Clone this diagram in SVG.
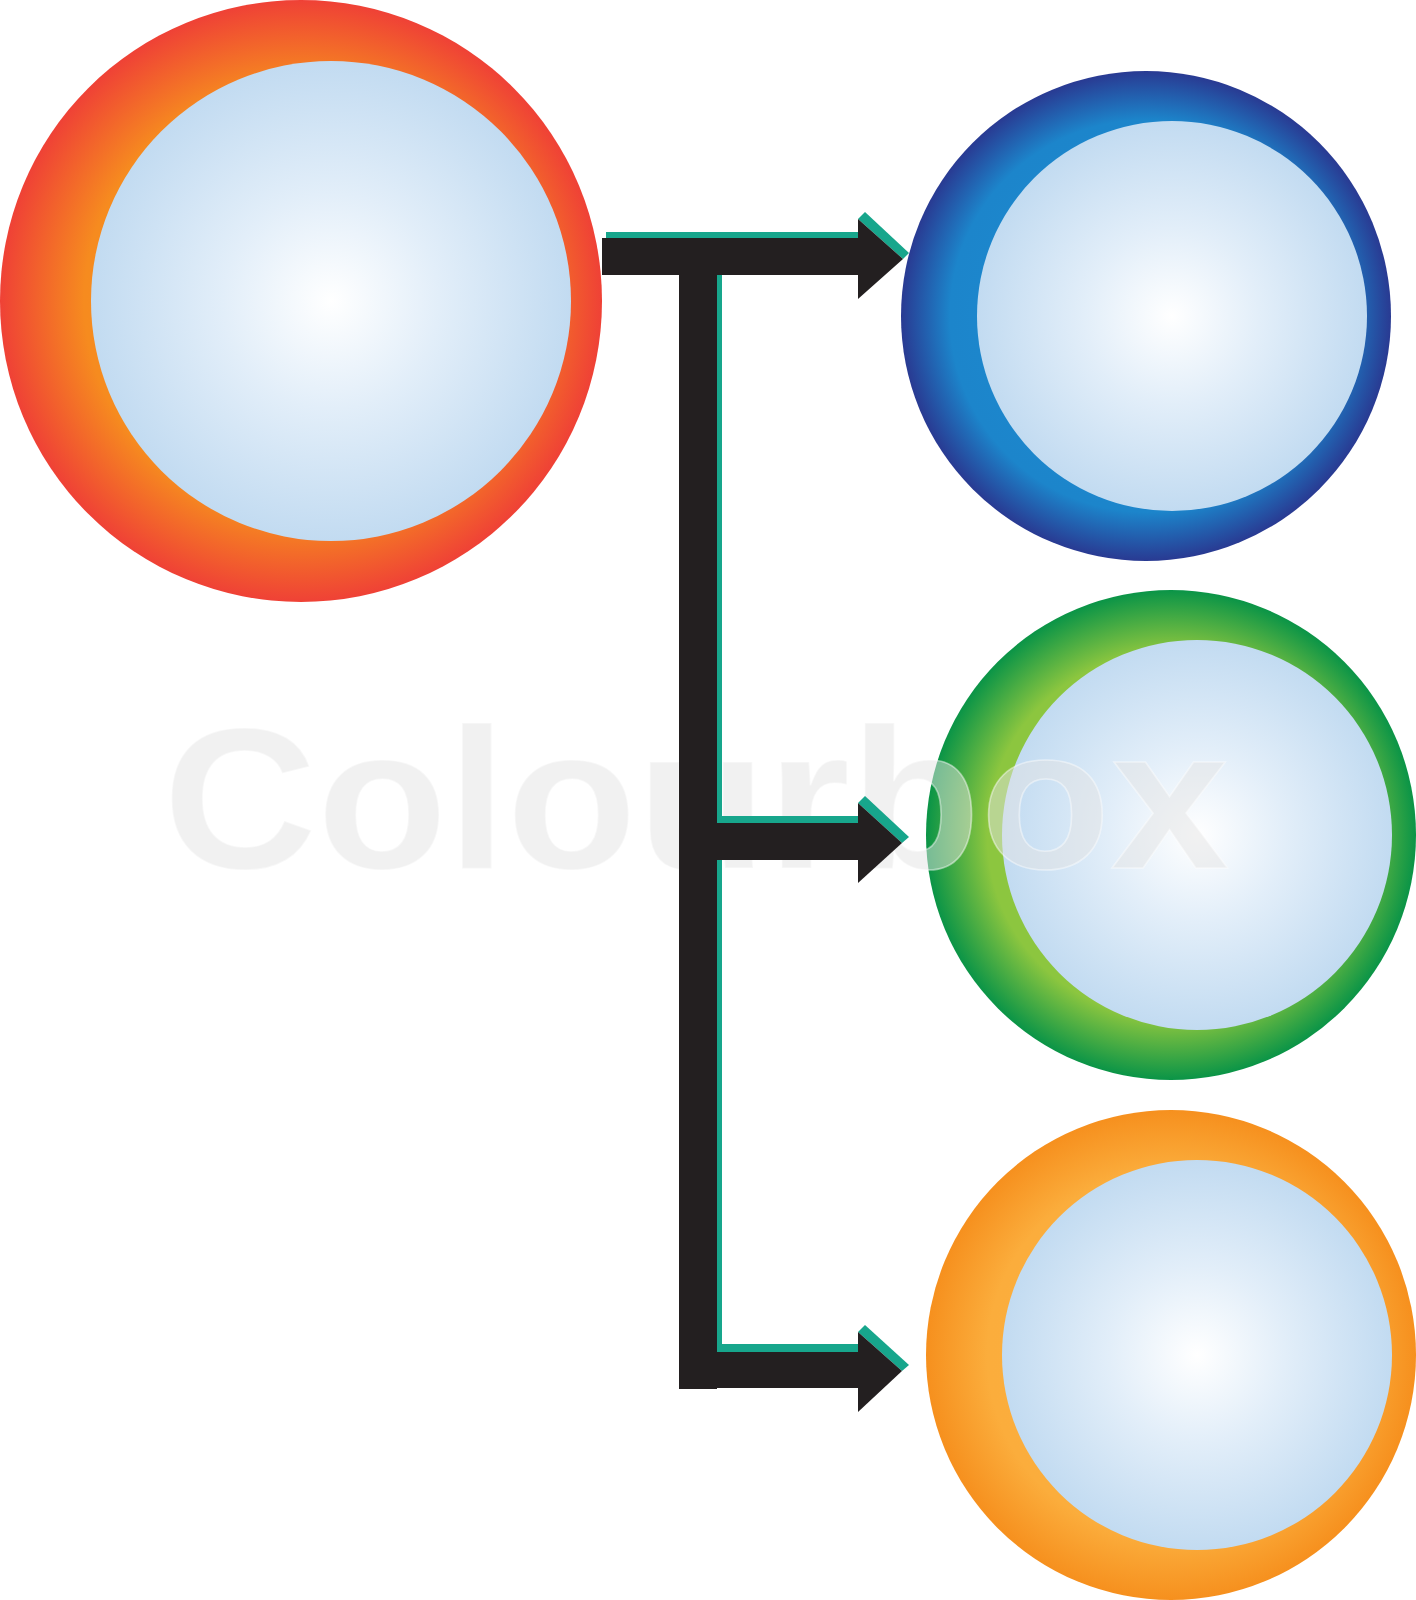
<svg xmlns="http://www.w3.org/2000/svg" width="1416" height="1600" viewBox="0 0 1416 1600">
<style>
.bar{fill:#231f20}
.teal{fill:#17a68c}
.wm{font-family:"Liberation Sans",Arial,sans-serif;font-weight:bold;fill:#e4e4e4;fill-opacity:0.5;stroke:#ffffff;stroke-opacity:0.45;stroke-width:1.5}
</style>
<defs>
<radialGradient id="gRed" cx="0.5" cy="0.5" r="0.5">
<stop offset="0" stop-color="#f7941d"/><stop offset="0.72" stop-color="#f68b1f"/><stop offset="1" stop-color="#ef4136"/>
</radialGradient>
<radialGradient id="gBlue" cx="0.5" cy="0.5" r="0.5">
<stop offset="0" stop-color="#1c8cd2"/><stop offset="0.8" stop-color="#1c85cb"/><stop offset="1" stop-color="#293a92"/>
</radialGradient>
<radialGradient id="gGreen" cx="0.5" cy="0.5" r="0.5">
<stop offset="0" stop-color="#8dc63f"/><stop offset="0.75" stop-color="#8cc63f"/><stop offset="1" stop-color="#0a9447"/>
</radialGradient>
<radialGradient id="gOrange" cx="0.5" cy="0.5" r="0.5">
<stop offset="0" stop-color="#fbb040"/><stop offset="0.75" stop-color="#fbad3c"/><stop offset="1" stop-color="#f6901e"/>
</radialGradient>
<radialGradient id="gIn" cx="0.5" cy="0.5" r="0.5">
<stop offset="0" stop-color="#ffffff"/><stop offset="0.45" stop-color="#e2eef9"/><stop offset="1" stop-color="#c2dbf1"/>
</radialGradient>
</defs>
<rect width="1416" height="1600" fill="#ffffff"/>
<g id="node-main">
<circle cx="301" cy="301" r="301" fill="url(#gRed)"/>
<circle cx="331" cy="301" r="240" fill="url(#gIn)"/>
</g>
<g id="node-blue">
<circle cx="1146" cy="316" r="245" fill="url(#gBlue)"/>
<circle cx="1172" cy="316" r="195" fill="url(#gIn)"/>
</g>
<g id="node-green">
<circle cx="1171" cy="835" r="245" fill="url(#gGreen)"/>
<circle cx="1197" cy="835" r="195" fill="url(#gIn)"/>
</g>
<g id="node-orange">
<circle cx="1171" cy="1355" r="245" fill="url(#gOrange)"/>
<circle cx="1197" cy="1355" r="195" fill="url(#gIn)"/>
</g>
<text class="wm" x="163" y="868" font-size="200" textLength="1066" lengthAdjust="spacingAndGlyphs">Colourbox</text>
<g id="connectors">
<rect class="teal" x="606" y="232" width="254" height="7"/>
<rect class="teal" x="717" y="275" width="5" height="548"/>
<rect class="teal" x="717" y="816" width="142" height="7"/>
<rect class="teal" x="717" y="860" width="5" height="490"/>
<rect class="teal" x="717" y="1344" width="142" height="8"/>
<polygon class="teal" points="858,219 865,212 909,253 903,259"/>
<polygon class="teal" points="858,803 865,796 909,837 902,843"/>
<polygon class="teal" points="858,1332 865,1325 909,1365 902,1371"/>
<rect class="bar" x="602" y="238" width="258" height="37"/>
<rect class="bar" x="679" y="238" width="38" height="1151"/>
<rect class="bar" x="717" y="823" width="143" height="37"/>
<rect class="bar" x="717" y="1352" width="143" height="36"/>
<polygon class="bar" points="858,219 903,259 858,299"/>
<polygon class="bar" points="858,803 902,843 858,883"/>
<polygon class="bar" points="858,1332 902,1371 858,1412"/>
</g>
</svg>
